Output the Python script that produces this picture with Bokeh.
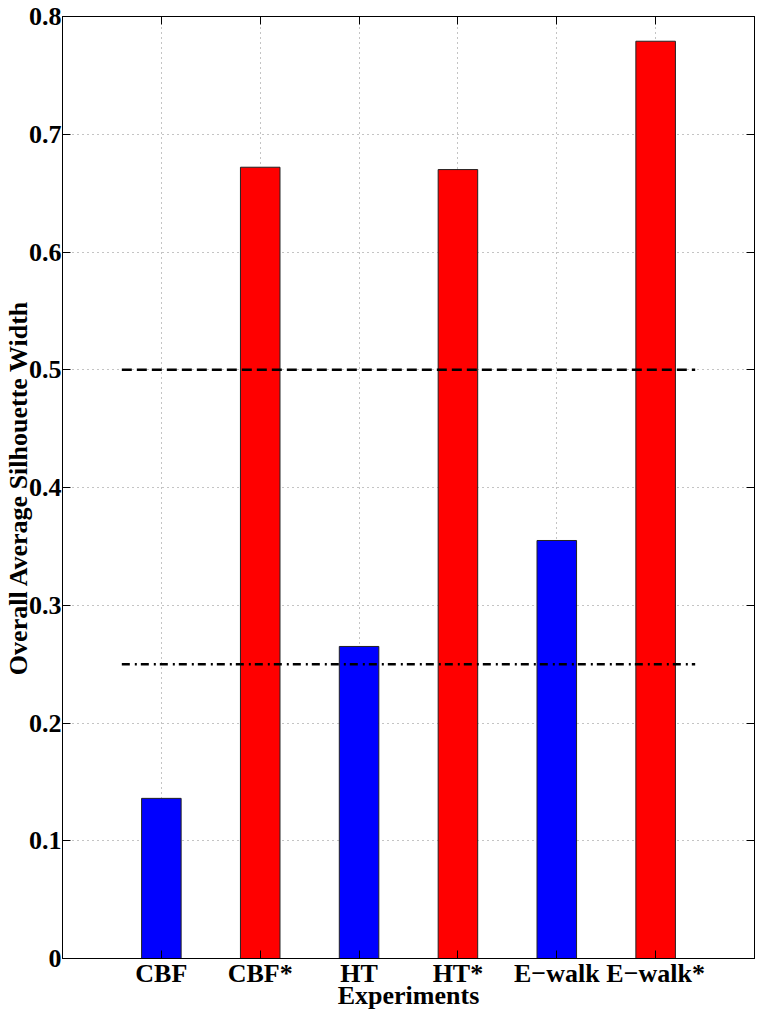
from bokeh.plotting import figure
from bokeh.models import FixedTicker, LinearAxis, Range1d, NumeralTickFormatter, ColumnDataSource
from bokeh.embed import file_html
from bokeh.resources import INLINE

categories = ["CBF", "CBF*", "HT", "HT*", "E\u2212walk", "E\u2212walk*"]
values = [0.136, 0.672, 0.265, 0.670, 0.355, 0.779]
bar_colors = ["#0000FF", "#FF0000", "#0000FF", "#FF0000", "#0000FF", "#FF0000"]
y_ticks = [0, 0.1, 0.2, 0.3, 0.4, 0.5, 0.6, 0.7, 0.8]
thresholds = [0.5, 0.25]
threshold_dashes = ["10 5", "8 5 2 4"]
x_title = "Experiments"
y_title = "Overall Average Silhouette Width"

x_pos = list(range(1, len(categories) + 1))
bar_w = 0.4

FONT = "Liberation Serif"
FS = "26px"

p = figure(width=757, height=1012, output_backend="svg", toolbar_location=None,
           x_range=Range1d(0, len(categories) + 1), y_range=Range1d(0, 0.8),
           min_border_left=40, min_border_right=3, min_border_top=16, min_border_bottom=0)
p.background_fill_color = "white"
p.border_fill_color = "white"
p.outline_line_color = "black"
p.outline_line_width = 1

src = ColumnDataSource(dict(x=x_pos, top=values, color=bar_colors))
p.vbar(x="x", top="top", width=bar_w, bottom=0, fill_color="color", line_color="#222222",
       line_width=1, source=src)

for t, d in zip(thresholds, threshold_dashes):
    p.segment(x0=[x_pos[0] - 0.4], x1=[x_pos[-1] + 0.4], y0=[t], y1=[t],
              line_color="black", line_width=2.5, line_dash=d)

# grids
p.xgrid.ticker = FixedTicker(ticks=x_pos)
p.ygrid.ticker = FixedTicker(ticks=y_ticks)
for g in (p.xgrid, p.ygrid):
    g.grid_line_color = "#888888"
    g.grid_line_dash = "1 4"
    g.grid_line_width = 1

# bottom / left axes
xa = p.xaxis[0]
xa.ticker = FixedTicker(ticks=x_pos)
xa.major_label_overrides = {x: c for x, c in zip(x_pos, categories)}
xa.axis_label = x_title
ya = p.yaxis[0]
ya.ticker = FixedTicker(ticks=y_ticks)
ya.formatter = NumeralTickFormatter(format="0.[0]")
ya.axis_label = y_title

for ax in (xa, ya):
    ax.major_label_text_font = FONT
    ax.major_label_text_font_style = "bold"
    ax.major_label_text_font_size = FS
    ax.major_label_text_color = "black"
    ax.axis_label_text_font = FONT
    ax.axis_label_text_font_style = "bold"
    ax.axis_label_text_font_size = FS
    ax.axis_label_text_color = "black"
    ax.major_tick_in = 8
    ax.major_tick_out = 0
    ax.minor_tick_line_color = None
    ax.axis_line_color = "black"
    ax.major_tick_line_color = "black"
xa.major_label_standoff = 0
xa.axis_label_standoff = -10
ya.major_label_standoff = 1
ya.axis_label_standoff = -7

# top and right axes: ticks only, labels not drawn
top_ax = LinearAxis(ticker=FixedTicker(ticks=x_pos))
right_ax = LinearAxis(ticker=FixedTicker(ticks=y_ticks))
for ax in (top_ax, right_ax):
    ax.major_label_text_font_size = "1px"
    ax.major_label_text_color = None
    ax.major_label_standoff = 0
    ax.major_tick_in = 8
    ax.major_tick_out = 0
    ax.minor_tick_line_color = None
    ax.axis_line_color = "black"
    ax.major_tick_line_color = "black"
p.add_layout(top_ax, "above")
p.add_layout(right_ax, "right")

open("out.html", "w").write(file_html(p, INLINE))
